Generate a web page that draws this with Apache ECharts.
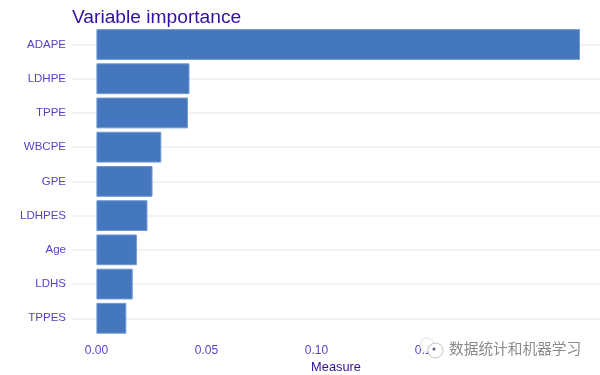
<!DOCTYPE html>
<html>
<head>
<meta charset="utf-8">
<style>
  html, body { margin: 0; padding: 0; background: #fff; }
  #chart { width: 600px; height: 375px; }
</style>
<script src="https://cdn.jsdelivr.net/npm/echarts@6/dist/echarts.min.js"></script>
</head>
<body>
<div id="chart"></div>
<script>
let categories = ["ADAPE", "LDHPE", "TPPE", "WBCPE", "GPE", "LDHPES", "Age", "LDHS", "TPPES"];
let measure = [0.2198, 0.0423, 0.0416, 0.0295, 0.0255, 0.0232, 0.0184, 0.0165, 0.0136];
let xTicks = [0, 0.05, 0.1, 0.15, 0.2];

let labelColor = "#5a3fc4";
let font = "Liberation Sans";

let chart = echarts.init(document.getElementById("chart"));

chart.setOption({
  animation: false,
  backgroundColor: "#fff",
  textStyle: { fontFamily: font },
  title: {
    text: "Variable importance",
    left: 67,
    top: 3,
    textStyle: { color: "#3410a0", fontSize: 19.2, fontWeight: "normal", fontFamily: font },
  },
  grid: { left: 72, right: 0, top: 27.4, bottom: 39.6, outerBoundsMode: "none" },
  xAxis: {
    type: "value",
    min: -0.0111,
    max: 0.2289,
    name: "Measure",
    nameLocation: "middle",
    nameGap: 24,
    nameTextStyle: { color: "#3410a0", fontSize: 12.8, fontFamily: font },
    axisLine: { show: false },
    axisTick: { show: false },
    splitLine: { show: false },
    axisLabel: {
      customValues: xTicks,
      color: labelColor,
      fontSize: 12,
      margin: 9,
      formatter: function (value) {
        return value.toFixed(2);
      },
    },
  },
  yAxis: {
    type: "category",
    inverse: true,
    data: categories,
    axisLine: { show: false },
    axisTick: { show: false },
    splitLine: { show: false },
    axisLabel: { color: labelColor, fontSize: 11.5, margin: 6 },
  },
  series: [
    {
      type: "bar",
      data: measure,
      barWidth: "90%",
      z: 2,
      itemStyle: { color: "#4477bd", borderColor: "#7098d4", borderWidth: 1 },
      markLine: {
        silent: true,
        symbol: "none",
        z: 1,
        label: { show: false },
        lineStyle: { color: "#efeff1", width: 1.5, type: "solid" },
        data: categories.map(function (name) {
          return { yAxis: name };
        }),
      },
    },
  ],
  graphic: [
    { type: "circle", z: 100, shape: { cx: 427, cy: 345, r: 7 }, style: { fill: "#fff", stroke: "#dcdcdc", lineWidth: 1, opacity: 0.9 } },
    { type: "circle", z: 101, shape: { cx: 435.5, cy: 350.5, r: 7.5 }, style: { fill: "#fff", stroke: "#c4c4c4", lineWidth: 1 } },
    { type: "circle", z: 102, shape: { cx: 434, cy: 349, r: 1.5 }, style: { fill: "#5a5a7a" } },
    {
      type: "text",
      z: 103,
      x: 449,
      y: 341,
      style: {
        text: "数据统计和机器学习",
        fill: "#8a8a8a",
        stroke: "#fff",
        lineWidth: 3,
        font: '14.7px "Noto Sans CJK SC"',
      },
    },
  ],
});
</script>
</body>
</html>
